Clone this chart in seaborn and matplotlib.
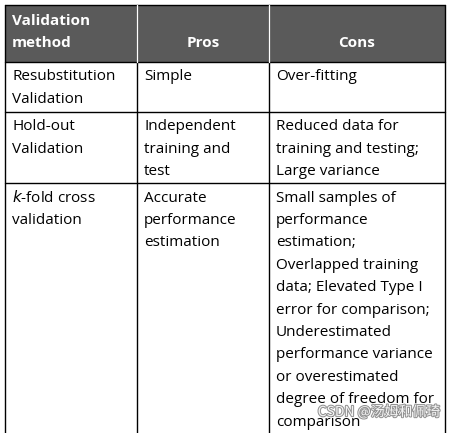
"""Tabela: métodos de validação, prós e contras."""

import matplotlib.patheffects as pe
import matplotlib.pyplot as plt
import seaborn as sns

headers = [["Validation", "method"], ["Pros"], ["Cons"]]
methods = [
    ["Resubstitution", "Validation"],
    ["Hold-out", "Validation"],
    ["$\\it{k}$-fold cross", "validation"],
]
pros = [
    ["Simple"],
    ["Independent", "training and", "test"],
    ["Accurate", "performance", "estimation"],
]
cons = [
    ["Over-fitting"],
    ["Reduced data for", "training and testing;", "Large variance"],
    ["Small samples of", "performance", "estimation;", "Overlapped training",
     "data; Elevated Type I", "error for comparison;", "Underestimated",
     "performance variance", "or overestimated", "degree of freedom for",
     "comparison"],
]

sns.set_theme(style="white")
plt.rcParams["font.family"] = ["Open Sans", "DejaVu Sans"]

W, H = 454, 433
fig = plt.figure(figsize=(W / 100, H / 100), dpi=100)
ax = fig.add_axes([0, 0, 1, 1])
ax.set_xlim(0, W)
ax.set_ylim(H, 0)
ax.axis("off")

col_x = [5, 137, 269, 445]
row_y = [5, 62, 112, 183, 440]
line_h = 22.4
fs = 11

# cabeçalho
ax.add_patch(plt.Rectangle((col_x[0], row_y[0]), col_x[3] - col_x[0],
                           row_y[1] - row_y[0], color="#5a5a5a", lw=0))
for i, lines in enumerate(headers):
    y0 = 43 - (len(lines) - 1) * line_h
    for k, t in enumerate(lines):
        if i == 0:
            ax.text(col_x[0] + 7, y0 + k * line_h, t, color="white",
                    fontsize=fs, fontweight="bold", va="center")
        else:
            ax.text((col_x[i] + col_x[i + 1]) / 2, y0 + k * line_h, t,
                    color="white", fontsize=fs, fontweight="bold",
                    va="center", ha="center")

# linhas da tabela
for y in row_y[1:4]:
    ax.plot([col_x[0], col_x[3]], [y, y], color="black", lw=1)
ax.plot([col_x[0], col_x[3]], [row_y[0], row_y[0]], color="black", lw=1)
for x in col_x:
    ax.plot([x, x], [row_y[0], H], color="black", lw=1)
for x in col_x[1:3]:
    ax.plot([x, x], [row_y[0], row_y[1]], color="white", lw=1)

for r in range(3):
    for c, col in enumerate([methods, pros, cons]):
        for k, t in enumerate(col[r]):
            ax.text(col_x[c] + 7, row_y[r + 1] + 15 + k * line_h, t,
                    fontsize=fs, va="center", color="black")

# marca d'água
ax.text(440, 412, "CSDN @汤姆和佩琦", ha="right", va="center", fontsize=10,
        color="white", alpha=0.9,
        family=["Noto Sans CJK SC", "DejaVu Sans"],
        path_effects=[pe.withStroke(linewidth=1.5, foreground="#888888")])

fig.savefig("out.png", dpi=100)
plt.close(fig)
